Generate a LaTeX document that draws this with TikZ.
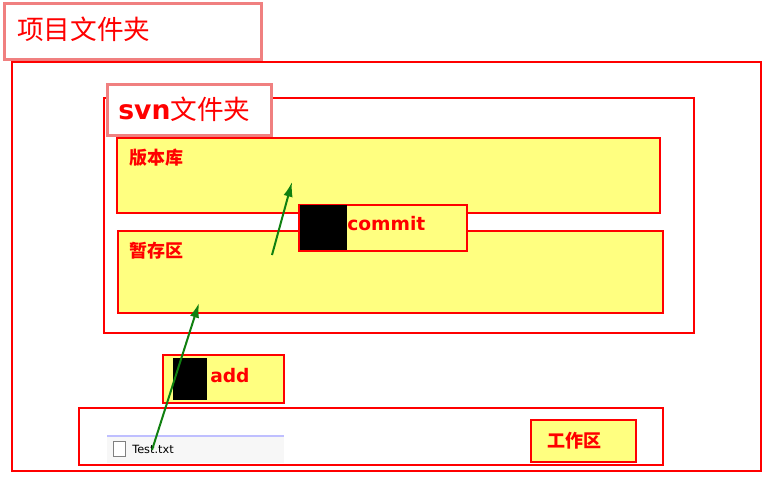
\documentclass[tikz,border=0pt]{standalone}
\usepackage{fontspec}
\setmainfont{DejaVu Sans}
\newfontfamily\cjk{Noto Sans CJK SC}
\usetikzlibrary{arrows.meta}
\definecolor{pinkr}{HTML}{F08080}
\definecolor{yel}{HTML}{FFFF80}
\definecolor{rd}{HTML}{FF0000}
\definecolor{grn}{HTML}{108010}
\tikzset{
  redbox/.style={draw=rd, line width=1.5pt},
  pinkbox/.style={draw=pinkr, line width=2.4pt, fill=white},
  yelbox/.style={draw=rd, line width=0.9pt, fill=yel},
  lbl/.style={text=rd, font=\cjk\bfseries\fontsize{13.5}{15}\selectfont, inner sep=0pt},
  arr/.style={draw=grn, line width=1.5pt, -{Latex[length=11pt,width=7pt]}},
  blk/.style={fill=black}
}
\begin{document}
\begin{tikzpicture}[x=0.75pt,y=-0.75pt]
\useasboundingbox (0,0) rectangle (775,492);
\node[pinkbox, minimum width=257*0.75pt, minimum height=56*0.75pt, anchor=north west] (title) at (3,2) {};
\node[anchor=west, text=rd, font=\cjk\fontsize{20}{22}\selectfont, inner sep=0pt] (titlet) at (17,29) {项目文件夹};
\draw[redbox] (12,62) rectangle (761,471);
\draw[redbox] (104,98) rectangle (694,333);
\node[pinkbox, minimum width=164*0.75pt, minimum height=51*0.75pt, anchor=north west] (svnb) at (106,83) {};
\node[anchor=west, text=rd, inner sep=0pt] (svnt) at (118,109) {{\bfseries\fontsize{20}{22}\selectfont svn}{\cjk\fontsize{20}{22}\selectfont 文件夹}};
\draw[yelbox] (117,138) rectangle (660,213);
\node[lbl, anchor=west] (repo) at (129,158) {版本库};
\draw[yelbox] (118,231) rectangle (663,313);
\node[lbl, anchor=west] (stage) at (129,251) {暂存区};
\draw[yelbox] (299,205) rectangle (467,251);
\fill[blk] (300,205) rectangle (347,250);
\node[lbl, font=\bfseries\fontsize{14}{15}\selectfont, anchor=west] (commit) at (347,224) {commit};
\draw[yelbox] (163,355) rectangle (284,403);
\fill[blk] (173,358) rectangle (207,400);
\node[lbl, font=\bfseries\fontsize{14}{15}\selectfont, anchor=west] (add) at (210,376) {add};
\draw[redbox] (79,408) rectangle (663,465);
\draw[yelbox] (531,420) rectangle (636,462);
\node[lbl] (work) at (574,441) {工作区};
\fill[gray!6] (107,435) rectangle (284,463);
\draw[blue!25, line width=1.2pt] (107,436) -- (284,436);
\draw[gray, fill=white, line width=0.5pt] (113,441) rectangle (125,456);
\node[anchor=west, font=\fontsize{8.5}{10}\selectfont, inner sep=0pt] (file) at (132,449) {Test.txt};
\coordinate (a1) at (152,450); \coordinate (a2) at (199,303);
\coordinate (c1) at (272,255); \coordinate (c2) at (292,182);
\draw[arr] (a1) -- (a2);
\draw[arr] (c1) -- (c2);
\end{tikzpicture}
\end{document}
